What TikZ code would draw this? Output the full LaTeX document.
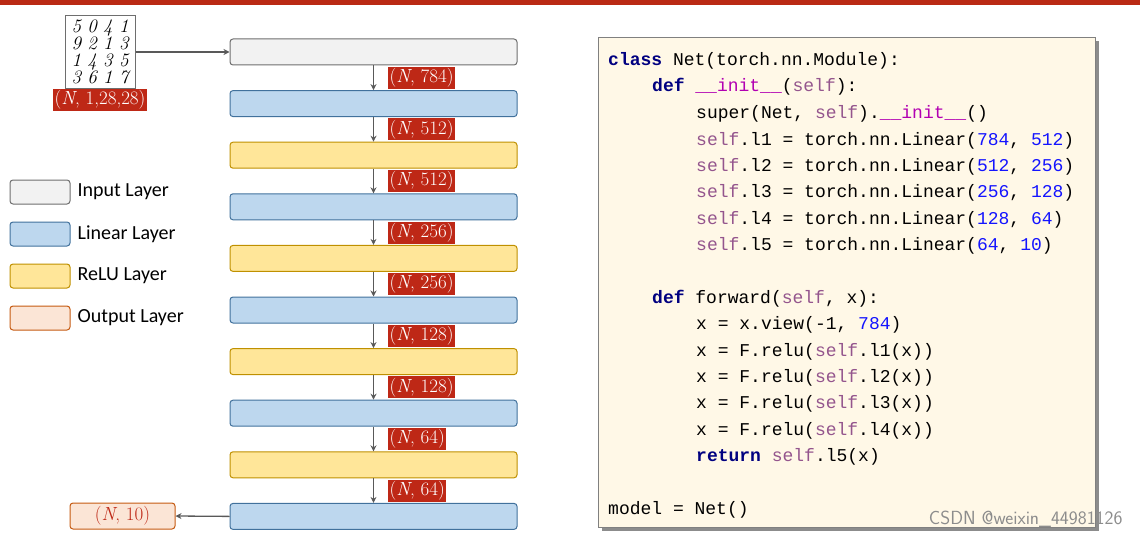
\documentclass[tikz,border=0pt]{standalone}
\usepackage{fontspec}
\newfontfamily\calibri{Carlito}
\setmonofont{Liberation Mono}
\usetikzlibrary{positioning,arrows.meta}
\definecolor{topred}{RGB}{186,42,20}
\definecolor{dimred}{RGB}{190,40,22}
\definecolor{inpfill}{RGB}{242,242,242}
\definecolor{inpdraw}{RGB}{110,110,110}
\definecolor{linfill}{RGB}{189,215,238}
\definecolor{lindraw}{RGB}{65,113,156}
\definecolor{relfill}{RGB}{255,230,153}
\definecolor{reldraw}{RGB}{191,144,0}
\definecolor{outfill}{RGB}{251,229,214}
\definecolor{outdraw}{RGB}{197,90,17}
\definecolor{codebg}{RGB}{255,248,231}
\definecolor{kw}{RGB}{0,0,128}
\definecolor{slf}{RGB}{148,85,141}
\definecolor{num}{RGB}{20,20,255}
\definecolor{dund}{RGB}{178,0,178}
\tikzset{%
  layer/.style={rounded corners=3pt,draw=#1draw,fill=#1fill,minimum width=287pt,minimum height=26pt,inner sep=0pt,line width=1pt},
  key/.style={rounded corners=3pt,draw=#1draw,fill=#1fill,minimum width=60pt,minimum height=24pt,inner sep=0pt,line width=1pt},
  dim/.style={fill=dimred,text=white,inner sep=1.5pt,font=\fontsize{19}{19}\selectfont},
  flow/.style={draw=black!65,line width=1.3pt,-{Stealth[length=6pt,width=6pt]}},
  codeline/.style={anchor=base west,inner sep=0pt,font=\fontsize{18}{18}\ttfamily}
}
\newcommand\kw[1]{\textcolor{kw}{\textbf{#1}}}
\newcommand\slf{\textcolor{slf}{self}}
\newcommand\nm[1]{\textcolor{num}{#1}}
\newcommand\dund{\textcolor{dund}{\_\_init\_\_}}
\newcommand\shp[1]{(\textit{N}, #1)}
\begin{document}
\begin{tikzpicture}[x=1pt,y=-1pt]
  \useasboundingbox (0,0) rectangle (1140,535);
  \fill[topred] (0,0) rectangle (1140,5);
  %% layers
  \foreach \kind [count=\i] in {inp,lin,rel,lin,rel,lin,rel,lin,rel,lin}
    \node[layer=\kind] (L\i) at (373.5,{52+51.6*(\i-1)}) {};
  \foreach \d [count=\i] in {784,512,512,256,256,128,128,64,64}{
    \pgfmathtruncatemacro\j{\i+1}
    \draw[flow] (L\i) -- (L\j) node[midway,dim,anchor=west,xshift=14pt] (d\i) {\shp{\d}};
  }
  %% input image
  \node[draw=inpdraw,fill=white,line width=1pt,minimum width=70pt,minimum height=72pt,inner sep=1pt,
    align=center,font=\fontsize{19}{17}\selectfont\itshape] (img) at (100,52)
    {5\,\,0\,\,4\,\,1\\9\,\,2\,\,1\,\,3\\1\,\,4\,\,3\,\,5\\3\,\,6\,\,1\,\,7};
  \node[dim,below=0pt of img] (imgdim) {(\textit{N}, 1,28,28)};
  \draw[flow] (img.east) -- (L1.west);
  %% output
  \node[key=out,minimum width=105pt,minimum height=26pt,font=\fontsize{19}{19}\selectfont] (out) at (122.5,516)
    {\color{dimred}\shp{10}};
  \draw[flow] (L10.west) -- (out.east);
  %% legend
  \foreach \kind/\txt [count=\i] in {inp/Input Layer,lin/Linear Layer,rel/ReLU Layer,out/Output Layer}{
    \node[key=\kind] (k\i) at (40,{192+42*(\i-1)}) {};
    \node[right=7pt of k\i,inner sep=0pt,font=\calibri\fontsize{20}{20}\selectfont] (t\i) {\txt};
  }
  %% code
  \fill[black!45] (602,41) rectangle (1099,531);
  \draw[black!50,fill=codebg] (598,37) rectangle (1095,527);
  \node[codeline] (c1) at (608,66) {\kw{class} Net(torch.nn.Module):};
  \node[codeline] (c2) at (652,92) {\kw{def} \dund(\slf):};
  \node[codeline] (c3) at (696,118) {super(Net, \slf).\dund()};
  \node[codeline] (c4) at (696,145) {\slf.l1 = torch.nn.Linear(\nm{784}, \nm{512})};
  \node[codeline] (c5) at (696,171) {\slf.l2 = torch.nn.Linear(\nm{512}, \nm{256})};
  \node[codeline] (c6) at (696,197) {\slf.l3 = torch.nn.Linear(\nm{256}, \nm{128})};
  \node[codeline] (c7) at (696,224) {\slf.l4 = torch.nn.Linear(\nm{128}, \nm{64})};
  \node[codeline] (c8) at (696,250) {\slf.l5 = torch.nn.Linear(\nm{64}, \nm{10})};
  \node[codeline] (c9) at (652,303) {\kw{def} forward(\slf, x):};
  \node[codeline] (c10) at (696,329) {x = x.view(-1, \nm{784})};
  \node[codeline] (c11) at (696,356) {x = F.relu(\slf.l1(x))};
  \node[codeline] (c12) at (696,382) {x = F.relu(\slf.l2(x))};
  \node[codeline] (c13) at (696,408) {x = F.relu(\slf.l3(x))};
  \node[codeline] (c14) at (696,435) {x = F.relu(\slf.l4(x))};
  \node[codeline] (c15) at (696,461) {\kw{return} \slf.l5(x)};
  \node[codeline] (c16) at (608,514) {model = Net()};
  \node[anchor=base east,text=black!45,font=\fontsize{19}{19}\sffamily] (wm) at (1126,524) {CSDN @weixin\_44981126};
\end{tikzpicture}
\end{document}
